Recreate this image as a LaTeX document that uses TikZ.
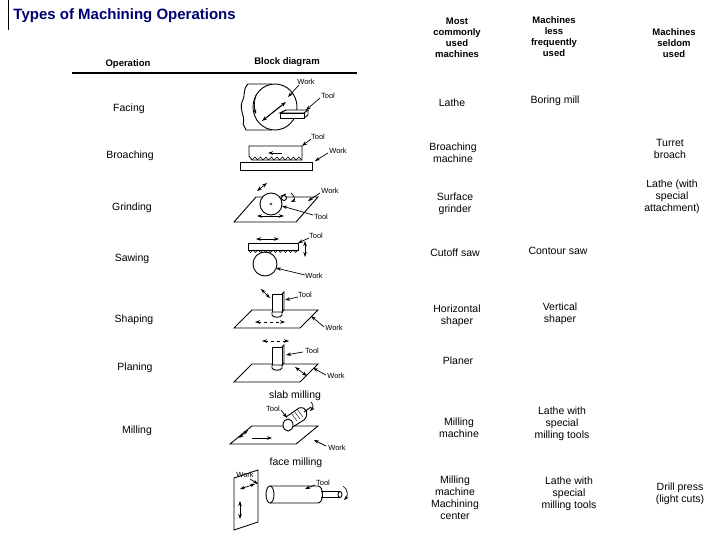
\documentclass[tikz,border=0pt]{standalone}
\usepackage{fontspec}
\setmainfont{Liberation Sans}
\usetikzlibrary{arrows.meta}
\begin{document}
\begin{tikzpicture}[x=1pt,y=-1pt,line width=0.9pt,
  txt/.style={font=\fontsize{10.5}{12}\selectfont,align=center,inner sep=0pt},
  hdr/.style={font=\bfseries\fontsize{9.5}{11}\selectfont,align=center,inner sep=0pt},
  lab/.style={font=\fontsize{7.5}{8}\selectfont,inner sep=0pt},
  arr/.style={-{Stealth[length=5pt,width=3.5pt]},line width=0.7pt},
  darr/.style={{Stealth[length=5pt,width=3.5pt]}-{Stealth[length=5pt,width=3.5pt]},line width=0.7pt}]
\useasboundingbox (0,0) rectangle (720,540);
\fill[white] (0,0) rectangle (720,540);
\draw[line width=0.6pt] (8,0) -- (8,30);
\node[anchor=west,inner sep=0pt,font=\bfseries\fontsize{15}{17}\selectfont,text=blue!45!black] (title) at (13,16) {Types of Machining Operations};
% headers
\node[hdr] (h1) at (128,64) {Operation};
\node[hdr] (h2) at (287,62) {Block diagram};
\node[hdr] (h3) at (457,38) {Most\\commonly\\used\\machines};
\node[hdr] (h4) at (554,37) {Machines\\less\\frequently\\used};
\node[hdr] (h5) at (674,43) {Machines\\seldom\\used};
\draw[line width=1.1pt] (72,73) -- (357,73);
% operations
\node[txt] (o1) at (129,109) {Facing};
\node[txt] (o2) at (130,156) {Broaching};
\node[txt] (o3) at (132,208) {Grinding};
\node[txt] (o4) at (132,259) {Sawing};
\node[txt] (o5) at (134,320) {Shaping};
\node[txt] (o6) at (135,368) {Planing};
\node[txt] (o7) at (137,431) {Milling};
\node[txt] (s1) at (295,396) {slab milling};
\node[txt] (s2) at (296,463) {face milling};
% machines
\node[txt] (m1) at (452,103) {Lathe};
\node[txt] (m2) at (453,153) {Broaching\\machine};
\node[txt] (m3) at (455,204) {Surface\\grinder};
\node[txt] (m4) at (455,253) {Cutoff saw};
\node[txt] (m5) at (457,316) {Horizontal\\shaper};
\node[txt] (m6) at (458,361) {Planer};
\node[txt] (m7) at (459,428) {Milling\\machine};
\node[txt] (m8) at (455,498) {Milling\\machine\\Machining\\center};
\node[txt] (l1) at (555,101) {Boring mill};
\node[txt] (l4) at (558,251) {Contour saw};
\node[txt] (l5) at (560,314) {Vertical\\shaper};
\node[txt] (l7) at (562,424) {Lathe with\\special\\milling tools};
\node[txt] (l8) at (569,494) {Lathe with\\special\\milling tools};
\node[txt] (r2) at (670,149) {Turret\\broach};
\node[txt] (r3) at (672,197) {Lathe (with\\special\\attachment)};
\node[txt] (r8) at (680,494) {Drill press\\(light cuts)};
% Facing
\draw (272,84) -- (248,84) .. controls (242,90) and (246,96) .. (242,102) .. controls (239,110) and (246,118) .. (243,124) -- (246,130) -- (272,130);
\draw (275,107) ellipse (22 and 23);
\draw[arr] (256,95) .. controls (254,102) and (254,108) .. (256,114);
\draw[darr,line width=1.1pt] (262,121) -- (286,102);
\draw[fill=white] (280,113) -- (304,113) -- (308,110) -- (286,110) -- cycle;
\draw[fill=white] (280,113) rectangle (304,118);
\draw (304,118) -- (308,115) -- (308,110);
\node[lab] (w1) at (306,82) {Work}; \draw[arr] (299,85) -- (288,97);
\node[lab] (t1) at (328,96) {Tool}; \draw[arr] (320,98) -- (306,110);
% Broaching
\draw (249,146) -- (302,146) -- (302,160) -- (252,160) -- (249,156) -- cycle;
\draw[line width=0.6pt] (252,160) \foreach \i in {0,...,8}{ -- ++(3,-3) -- ++(2.5,3)};
\draw[arr] (282,153) -- (268,153);
\draw (240,162) rectangle (312,170);
\node[lab] (t2) at (318,137) {Tool}; \draw[arr] (311,139) -- (302,146);
\node[lab] (w2) at (338,151) {Work}; \draw[arr] (328,153) -- (315,161);
% Grinding
\draw (234,222) -- (256,197) -- (318,197) -- (296,222) -- cycle;
\draw[fill=white] (271,204) circle (11);
\draw (281,196) -- (286,194); \draw[fill=white] (284,198) circle (2.5);
\draw[line width=0.4pt] (271,204) circle (1.2);
\draw[darr] (257,191) -- (267,183);
\draw[arr] (291,193) .. controls (295,196) and (295,200) .. (291,202);
\draw[darr] (257,216) -- (284,216);
\node[lab] (w3) at (330,191) {Work}; \draw[arr] (320,193) -- (308,201);
\node[lab] (t3) at (321,217) {Tool}; \draw[arr] (313,215) -- (282,206);
% Sawing
\draw[fill=white] (265,264) circle (12);
\draw[fill=white] (248,243) -- (298,243) -- (298,250) -- (248,250) -- cycle;
\draw[line width=0.6pt] (248,250) \foreach \i in {0,...,9}{ -- ++(2.5,2.5) -- ++(2.5,-2.5)};
\draw[darr] (256,239) -- (279,239);
\draw[darr] (305,241) -- (305,257);
\node[lab] (t4) at (316,236) {Tool}; \draw[arr] (309,238) -- (298,243);
\node[lab] (w4) at (314,276) {Work}; \draw[arr] (305,275) -- (276,268);
% Shaping
\draw (234,328) -- (252,310) -- (318,310) -- (300,328) -- cycle;
\draw[fill=white] (272,294) rectangle (282,312);
\draw[fill=white] (272,312) -- (282,312) -- (282,315) .. controls (281,318) and (273,318) .. (272,315) -- cycle;
\draw (282,294) -- (284,292) -- (284,310) -- (282,312);
\draw[darr] (261,289) -- (270,298);
\draw[darr,dashed] (255,322) -- (285,322);
\node[lab] (t5) at (305,295) {Tool}; \draw[arr] (298,297) -- (285,300);
\node[lab] (w5) at (334,328) {Work}; \draw[arr] (324,327) -- (311,316);
% Planing
\draw (234,382) -- (252,364) -- (318,364) -- (300,382) -- cycle;
\draw[fill=white] (272,347) rectangle (282,365);
\draw[fill=white] (272,365) -- (282,365) -- (282,368) .. controls (281,371) and (273,371) .. (272,368) -- cycle;
\draw (282,347) -- (284,345) -- (284,363) -- (282,365);
\draw[darr,dashed] (262,341) -- (289,341);
\draw[darr] (295,367) -- (307,376);
\node[lab] (t6) at (312,351) {Tool}; \draw[arr] (303,352) -- (286,355);
\node[lab] (w6) at (336,376) {Work}; \draw[arr] (326,375) -- (313,368);
% Slab milling
\draw (230,444) -- (252,426) -- (318,426) -- (296,444) -- cycle;
\draw[fill=white] (286,417) -- (299,408) .. controls (306,406) and (310,414) .. (304,420) -- (291,428);
\draw[fill=white] (288,425) ellipse (5 and 6);
\draw[line width=0.4pt] (291,413)--(297,421) (294,411)--(300,419) (297,409)--(303,417);
\draw (304,412) -- (311,407);
\draw[arr] (311,402) .. controls (314,405) and (313,408) .. (310,411);
\draw[darr] (239,438) -- (248,430);
\draw[arr] (252,438) -- (272,438);
\node[lab] (t7) at (273,409) {Tool}; \draw[arr] (281,410) -- (287,418);
\node[lab] (w7) at (337,448) {Work}; \draw[arr] (326,446) -- (314,440);
% Face milling
\draw (234,478) -- (258,470) -- (258,522) -- (234,530) -- cycle;
\draw[fill=white] (270,486) -- (318,486) .. controls (324,486) and (324,503) .. (318,503) -- (270,503);
\draw[fill=white] (270,494.5) ellipse (4 and 8.5);
\draw (321,491.5) -- (340,491.5) (321,497.5) -- (340,497.5);
\draw (340,494.5) ellipse (2 and 3);
\draw[arr] (343,486) .. controls (348,489) and (348,496) .. (344,500);
\draw[darr] (240,489) -- (255,484);
\draw[darr] (240,519) -- (240,501);
\node[lab] (w8) at (245,475) {Work}; \draw[arr] (250,479) -- (258,484);
\node[lab] (t8) at (323,483) {Tool}; \draw[arr] (315,485) -- (305,489);
\end{tikzpicture}
\end{document}
